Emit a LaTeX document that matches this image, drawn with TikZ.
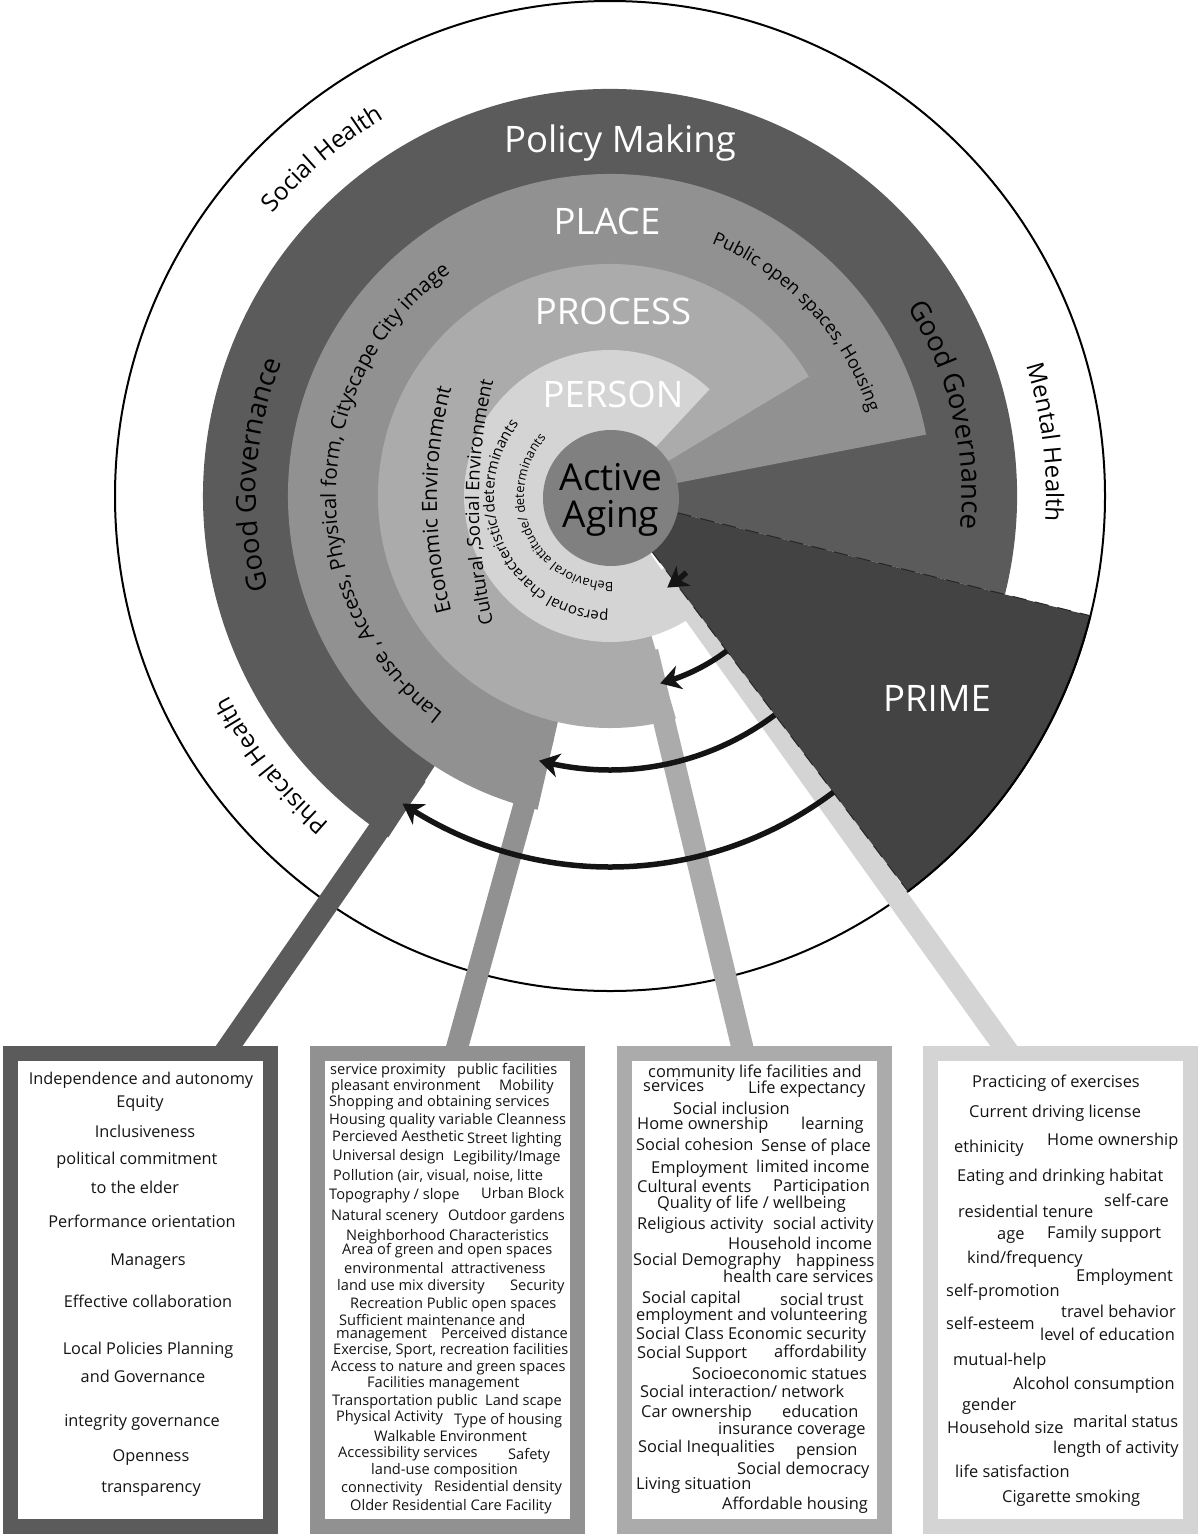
\documentclass[tikz,border=0pt]{standalone}
\usepackage{fontspec}
\setmainfont{Open Sans}
\usetikzlibrary{arrows.meta,bending,decorations.text}
\definecolor{cDark}{RGB}{91,91,91}
\definecolor{cPlace}{RGB}{145,145,145}
\definecolor{cProc}{RGB}{171,171,171}
\definecolor{cPers}{RGB}{212,212,212}
\definecolor{cAA}{RGB}{128,128,128}
\definecolor{cPrime}{RGB}{67,67,67}
\definecolor{cTxt}{RGB}{20,20,20}
\newcommand\fs[1]{\fontsize{#1}{#1}\selectfont}
\begin{document}
\begin{tikzpicture}[x=1pt,y=1pt,
  stemband/.style={line width=22pt},
  arcarrow/.style={line width=5.5pt, draw=black!92, -{Stealth[length=20pt,width=24pt,inset=6pt,flex]}},
  primeedge/.style={draw=black!85, line width=1pt, dash pattern=on 14pt off 9pt},
  boxframe/.style={line width=15pt, fill=white, minimum width=260pt, minimum height=473pt, inner sep=0pt, outer sep=0pt},
  bigw/.style={font=\fs{36.5}, text=white, inner sep=0pt},
  aatext/.style={font=\fs{37}, text=black, inner sep=0pt},
  tone/.style={font=\fs{16.3}, text=cTxt, inner sep=0pt, text height=11.7pt, text depth=3pt},
  ttwo/.style={font=\fs{14.6}, text=cTxt, inner sep=0pt, text height=10.5pt, text depth=2.7pt, anchor=west},
  tthree/.style={font=\fs{16.4}, text=cTxt, inner sep=0pt, text height=11.8pt, text depth=3pt, anchor=west},
  tfour/.style={font=\fs{16.4}, text=cTxt, inner sep=0pt, text height=11.8pt, text depth=3pt, anchor=west},
  curved/.style={decorate, decoration={text along path, text align=center, text={#1}}},
]
\useasboundingbox (0,0) rectangle (1200,-1539);
\fill[white] (0,0) rectangle (1200,-1539);

\begin{scope}[shift={(610,-496)}]
  % outer circle
  \draw[line width=2pt] (0,0) circle[radius=495];
  % stems
  \coordinate (s1a) at (-124.7:340); \coordinate (s1b) at (-124.7:700);
  \coordinate (s2a) at (-105.5:250); \coordinate (s2b) at (-105.5:600);
  \coordinate (s3a) at (-76.5:160);  \coordinate (s3b) at (-76.5:595);
  \coordinate (s4a) at (-54.4:90);   \coordinate (s4b) at (-54.4:710);
  \draw[stemband, cDark]  (s1a) -- (s1b);
  \draw[stemband, cPlace] (s2a) -- (s2b);
  \draw[stemband, cProc]  (s3a) -- (s3b);
  \draw[stemband, cPers]  (s4a) -- (s4b);
  % rings (sectors)
  \fill[cDark]  (0,0) -- (-14:407) arc[start angle=-14, end angle=237, radius=407] -- cycle;
  \fill[cPlace] (0,0) -- (11:322)  arc[start angle=11,  end angle=257, radius=322] -- cycle;
  \fill[cProc]  (0,0) -- (31:232)  arc[start angle=31,  end angle=286.5, radius=232] -- cycle;
  \fill[cPers]  (0,0) -- (47:146)  arc[start angle=47,  end angle=305, radius=146] -- cycle;
  % PRIME wedge
  \fill[cPrime] (0,0) -- (-53:495) arc[start angle=-53, end angle=-14, radius=495] -- cycle;
  \draw[line width=2pt] (-53:495) arc[start angle=-53, end angle=-14, radius=495];
  \draw[primeedge] (-14:70) -- (-14:495);
  \draw[primeedge] (-53:70) -- (-53:495);
  % Active Aging circle
  \node[circle, fill=cAA, minimum size=136pt, inner sep=0pt] (aacirc) at (1,-2) {};
  % arrows
  \draw[arcarrow] (-45:108) arc[start angle=-45, end angle=-58, radius=108];
  \draw[arcarrow] (-53:194) arc[start angle=-53, end angle=-75, radius=194];
  \draw[arcarrow] (-53:274) arc[start angle=-53, end angle=-105, radius=274];
  \draw[arcarrow] (-53:371) arc[start angle=-53, end angle=-124, radius=371];
  % curved labels
  \path[curved={|\fs{24.5}|Social Health}] (147:440) arc[start angle=147, end angle=114, radius=440];
  \path[curved={|\fs{24}|Mental Health}] (24:436) arc[start angle=24, end angle=-10, radius=436];
  \path[curved={|\fs{24}|Phisical Health}] (236:431) arc[start angle=236, end angle=201, radius=431];
  \path[curved={|\fs{27.5}|Good Governance}] (200:354) arc[start angle=200, end angle=153, radius=354];
  \path[curved={|\fs{27.5}|Good Governance}] (38:352) arc[start angle=38, end angle=-11, radius=352];
  \path[curved={|\fs{20.5}|Land-use , Access, Physical form, Cityscape City image}] (240:274) arc[start angle=240, end angle=118, radius=274];
  \path[curved={|\fs{18}|Public open spaces, Housing}] (76:272) arc[start angle=76, end angle=10, radius=272];
  \path[curved={|\fs{15}|personal characteristic/determinants}] (-84:116) arc[start angle=-84, end angle=-225, radius=116];
  \path[curved={|\fs{12.8}|Behavioral attitude/ determinants}] (-80:86) arc[start angle=-80, end angle=-230, radius=86];
\end{scope}

% gently curved process-ring labels
\path[curved={|\fs{21}|Economic Environment}] ([shift={(200:440)}]877,-500) arc[start angle=200, end angle=160, radius=440];
\path[curved={|\fs{18.6}|Cultural ,Social Environment}] ([shift={(197:520)}]999,-502) arc[start angle=197, end angle=163, radius=520];

% ring titles
\node[bigw, anchor=base] (tpolicy) at (620,-152) {Policy Making};
\node[bigw] (tplace) at (607,-221) {PLACE};
\node[bigw] (tprocess) at (613,-311) {PROCESS};
\node[bigw] (tperson) at (613,-394) {PERSON};
\node[aatext, anchor=base] (tactive) at (611,-490) {Active};
\node[aatext, anchor=base] (taging) at (611,-527) {Aging};
\node[bigw] (tprime) at (937,-698) {PRIME};

% boxes
\node[boxframe, draw=cDark]  (box1) at (140.5,-1290) {};
\node[boxframe, draw=cPlace] (box2) at (447.5,-1290) {};
\node[boxframe, draw=cProc]  (box3) at (754.5,-1290) {};
\node[boxframe, draw=cPers]  (box4) at (1060.5,-1290) {};

% box 1
\foreach \x/\y/\t [count=\i] in {
 141/1080/{Independence and autonomy}, 140/1103/{Equity}, 145/1133/{Inclusiveness},
 137/1160/{political commitment}, 135/1189/{to the elder}, 142/1223/{Performance orientation},
 148/1261/{Managers}, 148/1303/{Effective collaboration}, 148/1350/{Local Policies Planning},
 143/1378/{and Governance}, 142/1422/{integrity governance}, 151/1457/{Openness},
 151/1488/{transparency}}
 \node[tone] (bone\i) at (\x,-\y) {\t};

% box 2
\foreach \x/\y/\t [count=\i] in {
 330/1071/{service proximity}, 457/1071/{public facilities},
 331/1087/{pleasant environment}, 499/1087/{Mobility},
 329/1103/{Shopping and obtaining services},
 329/1121/{Housing quality variable Cleanness},
 332/1138/{Percieved Aesthetic}, 467/1140/{Street lighting},
 332/1157/{Universal design}, 453/1158/{Legibility/Image},
 333/1177/{Pollution (air, visual, noise, litte},
 329/1196/{Topography / slope}, 481/1195/{Urban Block},
 331/1217/{Natural scenery}, 448/1217/{Outdoor gardens},
 346/1237/{Neighborhood Characteristics},
 342/1251/{Area of green and open spaces},
 344/1270/{environmental\ \ attractiveness},
 337/1287/{land use mix diversity}, 510/1287/{Security},
 350/1305/{Recreation Public open spaces},
 339/1322/{Sufficient maintenance and},
 336/1335/{management}, 441/1335/{Perceived distance},
 333/1351/{Exercise, Sport, recreation facilities},
 331/1368/{Access to nature and green spaces},
 367/1384/{Facilities management},
 332/1402/{Transportation public}, 485/1402/{Land scape},
 336/1418/{Physical Activity}, 454/1421/{Type of housing},
 374/1438/{Walkable Environment},
 338/1454/{Accessibility services}, 508/1456/{Safety},
 371/1471/{land-use composition},
 341/1489/{connectivity}, 434/1488/{Residential density},
 350/1507/{Older Residential Care Facility}}
 \node[ttwo] (btwo\i) at (\x,-\y) {\t};

% box 3
\foreach \x/\y/\t [count=\i] in {
 648/1073/{community life facilities and},
 643/1087/{services}, 748/1089/{Life expectancy},
 673/1110/{Social inclusion},
 637/1125/{Home ownership}, 801/1125/{learning},
 636/1146/{Social cohesion}, 761/1147/{Sense of place},
 651/1169/{Employment}, 756/1168/{limited income},
 637/1188/{Cultural events}, 773/1187/{Participation},
 657/1204/{Quality of life / wellbeing},
 637/1225/{Religious activity}, 773/1225/{social activity},
 728/1245/{Household income},
 633/1261/{Social Demography}, 796/1262/{happiness},
 723/1278/{health care services},
 642/1299/{Social capital}, 780/1301/{social trust},
 636/1316/{employment and volunteering},
 636/1335/{Social Class Economic security},
 637/1354/{Social Support}, 774/1353/{affordability},
 692/1375/{Socioeconomic statues},
 640/1393/{Social interaction/ network},
 641/1413/{Car ownership}, 782/1413/{education},
 718/1430/{insurance coverage},
 638/1448/{Social Inequalities}, 796/1451/{pension},
 737/1470/{Social democracy},
 636/1485/{Living situation},
 722/1505/{Affordable housing}}
 \node[tthree] (bthree\i) at (\x,-\y) {\t};

% box 4
\foreach \x/\y/\t [count=\i] in {
 972/1083/{Practicing of exercises},
 969/1113/{Current driving license},
 954/1148/{ethinicity}, 1047/1141/{Home ownership},
 957/1177/{Eating and drinking habitat},
 1104/1202/{self-care},
 958/1213/{residential tenure},
 997/1235/{age}, 1047/1234/{Family support},
 967/1259/{kind/frequency},
 1076/1277/{Employment},
 946/1292/{self-promotion},
 1061/1313/{travel behavior},
 946/1325/{self-esteem},
 1040/1336/{level of education},
 953/1361/{mutual-help},
 1013/1385/{Alcohol consumption},
 962/1406/{gender},
 1073/1423/{marital status},
 947/1429/{Household size},
 1053/1449/{length of activity},
 955/1473/{life satisfaction},
 1002/1498/{Cigarette smoking}}
 \node[tfour] (bfour\i) at (\x,-\y) {\t};
\end{tikzpicture}
\end{document}
